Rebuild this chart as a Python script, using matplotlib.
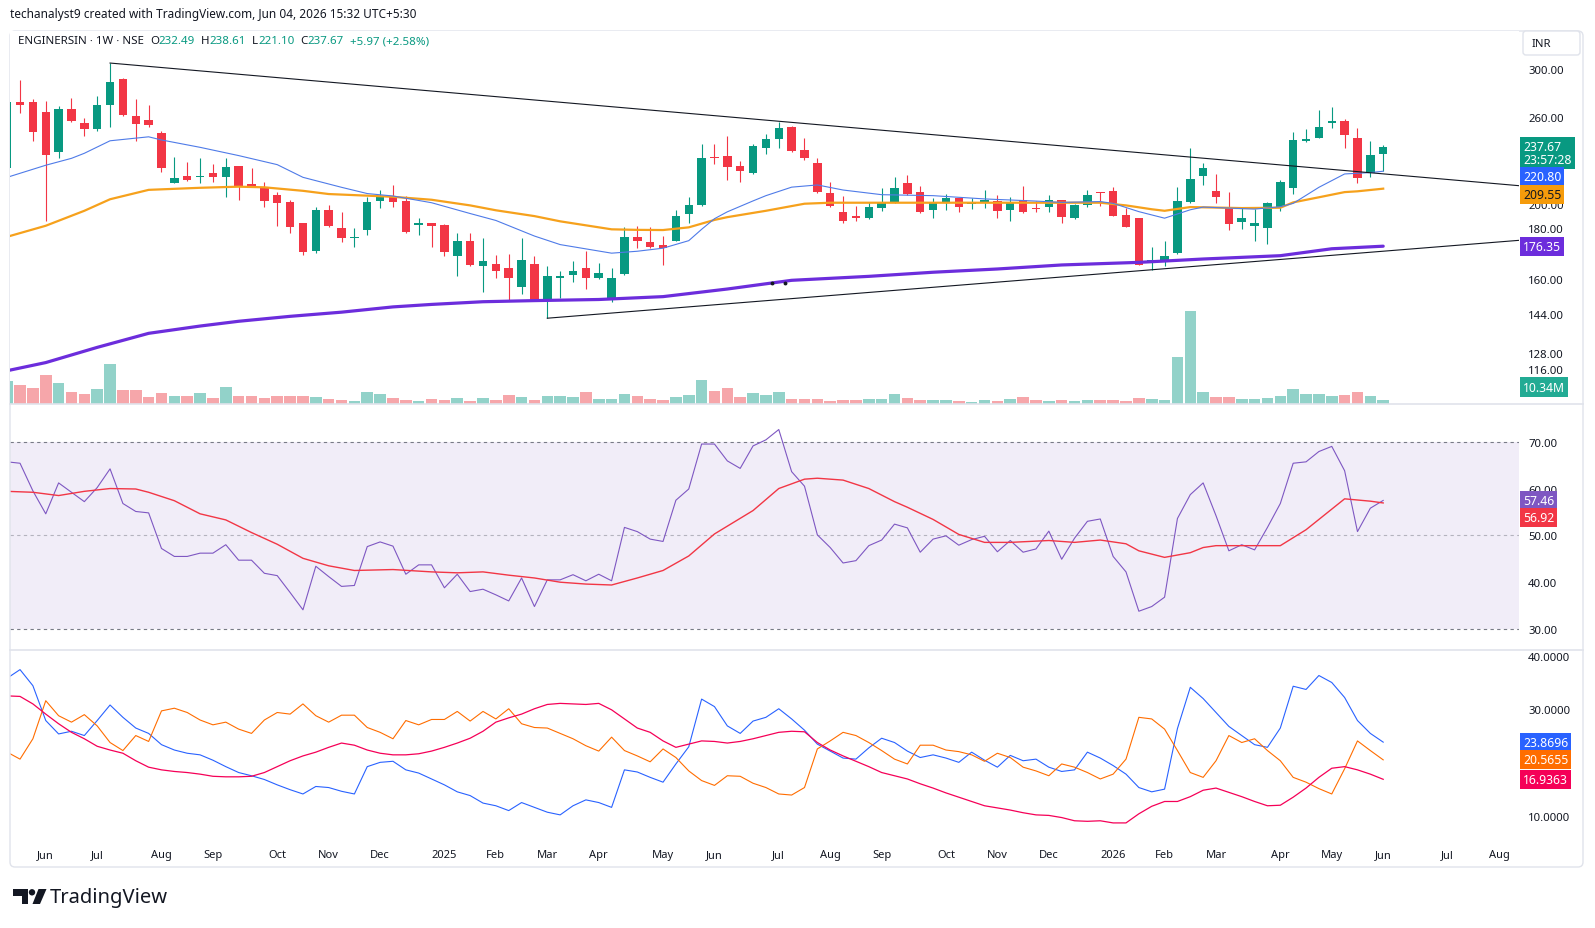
import numpy as np
import matplotlib.pyplot as plt
from matplotlib.lines import Line2D
from matplotlib.patches import FancyBboxPatch, Polygon, Circle
from matplotlib.transforms import IdentityTransform
from matplotlib.ticker import NullLocator

W, H = 1595, 929
plt.rcParams['font.family'] = ['Noto Sans', 'DejaVu Sans']

# weekly bars, index 0 = week of 3 Jun 2024, 104 = week of 1 Jun 2026
bars = np.arange(-3, 105)

opens = [222.7, 271.5, 272.0, 263.9, 234.1, 266.3, 255.2, 250.9, 269.5, 291.2,
         260.8, 257.5, 247.6, 213.0, 217.9, 216.8, 219.5, 217.2, 224.2, 212.5,
         210.8, 205.6, 201.1, 189.0, 173.8, 196.6, 186.3, 180.8, 185.3, 202.2,
         205.2, 202.2, 188.1, 189.0, 188.1, 171.1, 179.0, 166.3, 167.2, 165.2,
         156.2, 167.2, 149.9, 160.3, 161.7, 165.2, 160.3, 149.9, 162.2, 181.1,
         178.4, 177.2, 179.3, 194.2, 199.8, 230.7, 231.0, 224.2, 219.7, 236.7,
         243.5, 251.9, 235.5, 226.3, 206.7, 195.2, 193.2, 191.7, 197.7, 201.1,
         213.0, 207.3, 196.7, 201.6, 203.7, 200.2, 200.9, 201.9, 196.7, 202.5,
         197.7, 198.5, 202.5, 191.8, 199.5, 207.3, 207.9, 193.6, 191.9, 168.3,
         168.1, 172.7, 201.1, 217.4, 207.9, 198.1, 189.8, 187.5, 186.1, 198.5,
         209.8, 241.5, 244.2, 254.9, 256.9, 243.7, 219.5, 232.49]
highs = [274.0, 290.5, 274.3, 272.7, 268.7, 274.7, 258.8, 276.9, 305.4, 292.0,
         274.3, 269.5, 249.3, 230.7, 227.2, 229.4, 225.6, 229.4, 224.5, 222.8,
         213.6, 207.4, 202.5, 189.3, 198.1, 199.8, 195.2, 186.3, 204.2, 208.8,
         212.0, 205.2, 191.9, 189.3, 188.5, 183.4, 183.4, 180.8, 171.7, 172.1,
         180.8, 171.0, 166.3, 163.6, 168.8, 173.7, 167.7, 165.2, 186.6, 187.5,
         186.6, 182.0, 196.6, 204.6, 239.6, 239.6, 245.6, 227.6, 239.6, 246.7,
         256.2, 252.5, 243.7, 229.4, 213.6, 205.2, 199.1, 201.1, 210.0, 216.8,
         218.3, 211.4, 203.7, 206.2, 204.0, 203.7, 208.8, 205.6, 204.1, 211.0,
         202.2, 205.6, 202.8, 200.0, 208.8, 207.5, 210.4, 197.7, 192.0, 176.0,
         179.3, 210.3, 236.7, 226.3, 219.0, 207.3, 197.7, 197.4, 201.6, 215.3,
         248.6, 250.9, 265.3, 268.0, 258.5, 251.1, 241.9, 238.61]
lows = [220.0, 262.6, 241.9, 190.4, 229.4, 256.1, 245.6, 249.3, 252.3, 260.5,
        241.9, 252.3, 220.5, 213.0, 214.6, 213.0, 213.6, 204.6, 202.5, 210.4,
        198.5, 187.5, 183.4, 171.8, 172.8, 187.0, 178.4, 176.1, 182.6, 197.7,
        198.5, 183.4, 182.6, 176.1, 171.4, 161.4, 166.0, 153.6, 160.3, 149.5,
        152.8, 149.9, 142.1, 151.2, 158.5, 155.1, 160.0, 149.2, 161.9, 175.2,
        175.2, 166.8, 179.0, 189.3, 199.2, 225.6, 215.3, 213.6, 219.0, 232.4,
        236.4, 233.8, 228.1, 206.7, 198.5, 189.3, 190.4, 191.5, 196.1, 200.8,
        205.8, 194.6, 191.9, 196.6, 195.2, 197.4, 197.7, 191.8, 190.0, 194.8,
        195.2, 195.6, 188.9, 191.5, 198.5, 199.1, 193.0, 186.7, 166.5, 164.0,
        166.3, 172.5, 200.7, 211.9, 200.9, 185.3, 185.7, 179.3, 177.5, 196.1,
        206.2, 241.0, 244.0, 251.4, 236.4, 213.2, 216.8, 221.10]
closes = [271.5, 269.3, 248.6, 232.0, 266.3, 256.9, 250.9, 269.3, 288.3, 261.6,
          254.4, 253.9, 222.8, 216.2, 215.3, 217.9, 217.2, 223.5, 210.8, 211.4,
          202.2, 200.7, 186.9, 173.4, 196.6, 187.5, 180.8, 181.4, 201.6, 205.2,
          201.6, 183.9, 188.9, 187.5, 173.1, 179.0, 166.8, 168.8, 163.8, 160.5,
          169.2, 150.2, 161.1, 161.1, 163.8, 160.3, 162.6, 160.5, 181.1, 179.3,
          176.1, 175.5, 193.2, 199.5, 229.5, 229.7, 223.8, 221.2, 237.9, 243.5,
          251.4, 234.4, 229.4, 207.3, 199.1, 190.0, 191.7, 198.5, 201.1, 209.8,
          206.2, 195.6, 201.1, 203.7, 198.5, 200.9, 202.5, 196.1, 200.5, 195.2,
          197.1, 202.7, 192.7, 199.8, 205.6, 206.7, 193.2, 186.9, 166.8, 168.8,
          171.1, 201.9, 215.6, 222.7, 204.6, 188.5, 191.7, 189.3, 200.9, 213.6,
          242.5, 243.5, 251.9, 256.9, 246.3, 216.2, 231.70, 237.67]
volume_m = [60.2, 49.1, 41.4, 75.0, 54.3, 31.0, 25.1, 38.8, 103.4, 36.2,
            36.2, 18.1, 27.7, 20.7, 20.7, 28.4, 15.5, 43.9, 20.7, 20.7,
            14.7, 20.7, 20.7, 20.7, 18.1, 12.9, 10.3, 7.8, 31.0, 25.1,
            15.5, 10.3, 7.8, 12.9, 10.3, 15.5, 7.8, 15.5, 10.3, 23.3,
            18.1, 10.3, 20.7, 20.7, 18.1, 31.0, 12.9, 12.9, 25.1, 20.7,
            12.9, 10.3, 18.1, 23.3, 62.0, 33.6, 41.4, 18.1, 27.7, 23.3,
            31.0, 12.9, 12.9, 12.9, 7.8, 10.3, 10.3, 12.9, 12.9, 25.9,
            15.5, 10.3, 10.3, 10.3, 7.8, 5.2, 10.3, 7.8, 12.9, 18.1,
            10.3, 7.8, 10.3, 7.8, 10.3, 10.3, 10.3, 7.8, 15.5, 12.9,
            10.3, 123.3, 243.0, 31.0, 18.1, 18.1, 12.9, 12.9, 15.5, 20.7,
            38.8, 25.9, 25.9, 20.7, 23.3, 31.0, 20.7, 10.34]

# moving averages (read at selected bars)
ma20_x = [-3, 0, 2, 3, 5, 8, 9, 12, 15, 18, 20, 23, 25, 27, 30, 33, 35, 38, 40, 44,
          46, 48, 50, 51, 52, 53, 55, 56, 58, 60, 62, 65, 69, 73, 77, 79, 82, 83, 85, 87,
          89, 90, 92, 94, 96, 97, 99, 101, 103, 104]
ma20 = [216.8, 224.8, 229.5, 233.0, 241.9, 244.8, 242.5, 237.2, 231.4, 225.2,
        216.8, 210.4, 206.5, 205.0, 200.9, 194.5, 190.5, 181.8, 177.2, 172.7,
        173.7, 175.3, 179.3, 185.5, 191.5, 195.5, 202.0, 205.2, 210.5, 211.9,
        208.7, 205.8, 205.2, 203.2, 201.9, 201.1, 201.6, 200.5, 195.6, 191.8,
        196.7, 198.3, 197.7, 197.1, 198.5, 200.5, 210.4, 219.0, 219.9, 220.80]
ma50_x = [-3, 0, 3, 5, 8, 12, 15, 17, 20, 22, 25, 27, 30, 33, 35, 38, 40, 44, 46, 48,
          50, 52, 53, 56, 59, 61, 66, 74, 82, 84, 86, 87, 89, 93, 96, 97, 99, 101, 102, 104]
ma50 = [181.4, 187.5, 196.1, 203.0, 208.8, 210.1, 210.8, 210.4, 208.2, 206.2,
        205.2, 204.5, 202.7, 199.3, 196.4, 193.0, 190.0, 185.5, 185.2, 185.1,
        186.6, 190.8, 192.4, 196.1, 200.3, 200.9, 200.9, 200.9, 200.9, 199.3,
        197.0, 196.1, 198.3, 197.7, 197.9, 201.1, 204.2, 207.4, 207.9, 209.55]
ma200_x = [-3, 0, 4, 8, 12, 15, 19, 23, 27, 30, 34, 38, 43, 48, 53, 58, 64, 69, 74, 79,
           85, 90, 96, 100, 104]
ma200 = [121.4, 124.4, 130.2, 135.8, 138.8, 140.8, 142.9, 144.7, 147.0, 148.1,
         149.3, 149.8, 150.3, 151.6, 155.1, 159.2, 161.1, 163.1, 164.7, 166.7,
         168.0, 169.7, 171.4, 175.0, 176.35]

# drawn trendlines (bar, price)
trend_hi_x, trend_hi_y = [5, 114.6], [305.4, 211.4]
trend_lo_x, trend_lo_y = [39, 114.6], [142.1, 179.5]
anchor_x, anchor_y = [56.45, 57.48], [157.8, 157.8]

rsi = [65.7, 65.4, 59.5, 54.6, 61.2, 59.2, 57.2, 60.2, 64.2, 56.8,
       55.1, 54.8, 47.2, 45.5, 45.5, 46.2, 46.2, 48.0, 44.7, 44.7,
       41.9, 41.4, 37.8, 34.1, 43.4, 41.2, 39.1, 39.3, 47.6, 48.6,
       47.7, 41.7, 43.7, 43.7, 38.8, 41.7, 38.0, 38.5, 37.3, 36.0,
       40.9, 34.8, 40.5, 40.5, 41.6, 40.3, 41.7, 40.3, 51.7, 50.8,
       49.2, 48.7, 57.5, 59.9, 69.5, 69.5, 65.9, 64.3, 69.1, 70.4,
       72.6, 63.6, 60.5, 50.1, 47.4, 44.1, 44.6, 47.8, 49.0, 52.4,
       51.6, 46.4, 49.2, 49.9, 47.9, 49.1, 49.8, 46.5, 48.9, 46.4,
       47.1, 50.9, 44.9, 49.4, 53.0, 53.5, 45.5, 42.2, 33.8, 34.8,
       36.8, 53.6, 58.7, 61.2, 54.2, 46.7, 48.0, 46.9, 51.7, 56.8,
       65.4, 65.7, 67.9, 69.0, 63.8, 50.8, 55.8, 57.46]
rsi_ma_x = [-3, -1, 1, 3, 5, 7, 8, 10, 12, 14, 16, 18, 20, 22, 24, 27, 30, 32, 34, 36,
            38, 40, 42, 44, 46, 48, 50, 52, 55, 57, 59, 60, 62, 64, 66, 67, 69, 71, 73, 75,
            78, 80, 82, 84, 85, 87, 89, 90, 91, 96, 98, 100, 101, 103, 104]
rsi_ma = [59.4, 59.2, 58.5, 59.4, 60.0, 59.9, 59.2, 57.4, 54.6, 53.3,
          50.6, 48.1, 45.1, 43.5, 42.5, 42.7, 42.2, 42.0, 42.2, 41.5,
          40.9, 40.0, 39.6, 39.4, 40.9, 42.5, 45.6, 50.3, 55.3, 60.0,
          62.0, 62.2, 61.8, 60.0, 57.2, 56.0, 53.4, 50.2, 48.5, 48.5,
          48.9, 48.5, 49.0, 48.2, 46.7, 45.3, 46.3, 47.4, 47.8, 47.8,
          51.2, 55.6, 57.8, 57.3, 56.92]

di_plus = [35.8, 37.4, 34.4, 27.9, 25.4, 25.9, 25.1, 27.9, 30.8, 28.5,
           26.5, 25.5, 23.4, 22.4, 21.8, 21.5, 20.5, 19.3, 18.2, 17.6,
           16.9, 15.9, 15.0, 14.2, 15.6, 15.4, 14.7, 14.2, 19.3, 20.1,
           20.3, 18.7, 18.1, 17.0, 15.9, 14.6, 13.9, 12.5, 12.0, 11.1,
           12.6, 11.7, 10.8, 10.3, 12.0, 13.1, 12.6, 11.7, 18.7, 18.3,
           17.3, 16.4, 19.8, 23.0, 31.9, 30.5, 26.9, 25.5, 27.8, 28.5,
           30.1, 28.2, 26.1, 23.5, 22.2, 20.9, 20.7, 22.8, 24.6, 23.8,
           22.2, 21.0, 21.5, 20.9, 20.1, 22.0, 20.5, 19.2, 21.4, 20.4,
           20.7, 19.2, 18.4, 18.7, 22.0, 20.9, 19.5, 17.9, 15.4, 14.6,
           15.1, 26.4, 34.1, 32.0, 29.4, 26.8, 25.1, 23.4, 22.9, 26.5,
           34.3, 33.7, 36.3, 35.0, 32.2, 27.9, 25.5, 23.8696]
di_minus = [22.0, 20.7, 24.5, 31.6, 28.8, 27.6, 29.0, 26.9, 23.8, 22.3,
            25.1, 24.0, 29.7, 30.2, 29.4, 28.0, 27.1, 27.6, 26.3, 25.5,
            28.0, 29.4, 29.1, 31.0, 28.8, 27.6, 28.9, 28.9, 26.6, 25.7,
            24.5, 27.9, 27.1, 28.1, 28.1, 29.6, 27.8, 29.6, 28.2, 30.1,
            27.3, 26.6, 26.5, 25.5, 24.5, 23.2, 22.2, 24.8, 22.3, 21.3,
            20.2, 22.6, 21.0, 18.5, 16.7, 15.8, 17.6, 17.5, 16.2, 15.4,
            14.2, 14.0, 15.4, 22.6, 24.1, 25.7, 25.1, 23.8, 22.3, 20.7,
            19.8, 23.3, 23.3, 22.4, 22.1, 21.5, 20.3, 21.8, 21.0, 19.2,
            18.5, 17.6, 19.8, 19.2, 18.2, 17.0, 17.9, 20.7, 28.5, 28.2,
            26.3, 22.3, 18.2, 17.3, 20.4, 25.1, 23.8, 24.5, 22.3, 20.4,
            17.3, 16.4, 15.2, 14.2, 18.9, 24.1, 22.3, 20.5655]
adx = [32.5, 32.4, 31.0, 29.1, 27.3, 25.7, 24.5, 23.1, 22.4, 21.8,
       20.4, 19.2, 18.7, 18.4, 18.2, 17.9, 17.5, 17.4, 17.4, 17.5,
       18.2, 19.3, 20.4, 21.3, 22.0, 22.9, 23.7, 23.3, 22.4, 21.8,
       21.5, 21.5, 21.7, 22.2, 22.9, 23.7, 24.6, 25.9, 27.6, 28.4,
       29.1, 30.1, 30.9, 31.1, 31.0, 30.9, 31.1, 29.9, 28.2, 26.5,
       25.7, 24.1, 22.9, 23.5, 24.1, 24.0, 23.7, 24.0, 24.5, 25.1,
       25.7, 25.9, 25.8, 23.8, 22.4, 21.3, 20.3, 19.3, 18.2, 17.6,
       17.0, 16.1, 15.3, 14.4, 13.6, 12.8, 12.0, 11.6, 11.2, 10.7,
       10.3, 10.2, 9.8, 9.2, 9.1, 9.2, 8.8, 8.8, 10.5, 11.9,
       12.8, 12.8, 13.7, 14.9, 15.3, 14.5, 13.7, 12.8, 12.0, 12.1,
       13.6, 15.3, 17.3, 19.0, 19.3, 18.7, 17.9, 16.9363]

month_pos = [0, 4, 9, 13, 18, 22, 26, 31, 35, 39, 43, 48, 52, 57, 61, 65, 70, 74,
             78, 83, 87, 91, 96, 100, 104, 109, 113]
month_lab = ['Jun', 'Jul', 'Aug', 'Sep', 'Oct', 'Nov', 'Dec', '2025', 'Feb', 'Mar',
             'Apr', 'May', 'Jun', 'Jul', 'Aug', 'Sep', 'Oct', 'Nov', 'Dec', '2026',
             'Feb', 'Mar', 'Apr', 'May', 'Jun', 'Jul', 'Aug']
price_ticks = [128, 144, 160, 200, 260, 300]
# ticks drawn separately and nudged up, clear of the value tags (price, pixels)
price_ticks_nudged = [(116, 15), (180, 10)]
rsi_ticks = [30, 40, 50, 60, 70]
dmi_ticks = [10, 30, 40]

for arr in (opens, highs, lows, closes, volume_m, rsi, di_plus, di_minus, adx):
    assert len(arr) == len(bars), len(arr)

GREEN, RED, TXT, LINE = '#089981', '#f23645', '#131722', '#e0e3eb'
o, h, l, c = map(np.array, (opens, highs, lows, closes))
up = c >= o
col = np.where(up, GREEN, RED)
vcol = np.where(up, '#92d2c9', '#f6a6aa')

fig = plt.figure(figsize=(W / 100, H / 100), dpi=100)
fig.patch.set_facecolor('white')


def rect(x0, y0, x1, y1):
    return [x0 / W, 1 - y1 / H, (x1 - x0) / W, (y1 - y0) / H]


PL, PR, TOP, S1, S2, BOT = 10, 1519, 32, 405, 651, 840
ax_vol = fig.add_axes(rect(PL, TOP, PR, S1))
ax = fig.add_axes(rect(PL, TOP, PR, S1), sharex=ax_vol)
ax_rsi = fig.add_axes(rect(PL, S1, PR, S2), sharex=ax_vol)
ax_dmi = fig.add_axes(rect(PL, S2, PR, BOT), sharex=ax_vol)
ax_vol.set_zorder(1)
ax.set_zorder(2)
ax.patch.set_visible(False)
for a in (ax_vol, ax, ax_rsi, ax_dmi):
    for s in a.spines.values():
        s.set_visible(False)
    a.tick_params(length=0, labelsize=8.2, labelcolor=TXT)
    a.tick_params(axis='x', labelbottom=False)
ax_vol.set_yticks([])
ax_vol.set_xlim(-2.78, 114.56)

# volume
ax_vol.bar(bars, volume_m, width=0.9, color=vcol, linewidth=0)
ax_vol.set_ylim(0, max(volume_m) * 4.0)

# price pane
ax.set_yscale('log')
ax.set_ylim(109.87, 336.2)
ax.vlines(bars, l, h, colors=col, lw=0.8, zorder=2)
lo_b = np.minimum(o, c)
hi_b = np.maximum(np.maximum(o, c), lo_b * 1.004)
ax.bar(bars, hi_b - lo_b, bottom=lo_b, width=0.66, color=col, linewidth=0, zorder=3)
ax.plot(ma200_x, ma200, color='#6c2ddc', lw=2.3, zorder=4, solid_capstyle='round')
ax.plot(ma50_x, ma50, color='#f6a11c', lw=1.6, zorder=4)
ax.plot(ma20_x, ma20, color='#4f7be8', lw=0.8, zorder=4)
ax.plot(trend_hi_x, trend_hi_y, color=TXT, lw=0.8, zorder=5)
ax.plot(trend_lo_x, trend_lo_y, color=TXT, lw=0.8, zorder=5)
ax.plot(anchor_x, anchor_y, 'o', ms=1.8, color=TXT, zorder=5)
ax.yaxis.tick_right()
ax.yaxis.set_minor_locator(NullLocator())
ax.set_yticks(price_ticks)
ax.set_yticklabels([f'{v:.2f}' for v in price_ticks])
ax.tick_params(axis='y', pad=6.5)
for pv, nudge in price_ticks_nudged:
    ax.annotate(f'{pv:.2f}', xy=(1, pv), xycoords=('axes fraction', 'data'),
                xytext=(9, nudge), textcoords='offset pixels', ha='left', va='center',
                fontsize=8.2, color=TXT, annotation_clip=False, zorder=1)

# RSI pane
ax_rsi.set_ylim(25.52, 78.05)
ax_rsi.axhspan(30, 70, color='#7e57c2', alpha=0.1, lw=0)
for lev, al in ((70, 1), (50, 0.5), (30, 1)):
    ax_rsi.axhline(lev, color='#787b86', lw=0.8, ls=(0, (3, 3)), alpha=al)
ax_rsi.plot(bars, rsi, color='#7e57c2', lw=0.8)
ax_rsi.plot(rsi_ma_x, rsi_ma, color='#f23645', lw=1.0)
ax_rsi.yaxis.tick_right()
ax_rsi.set_yticks(rsi_ticks)
ax_rsi.set_yticklabels([f'{v:.2f}' for v in rsi_ticks])
ax_rsi.tick_params(axis='y', pad=6.5)

# DMI pane
ax_dmi.set_ylim(5.80, 41.06)
ax_dmi.plot(bars, di_plus, color='#2962ff', lw=0.8)
ax_dmi.plot(bars, di_minus, color='#ff6d00', lw=0.8)
ax_dmi.plot(bars, adx, color='#f50057', lw=0.9)
ax_dmi.yaxis.tick_right()
ax_dmi.set_yticks(dmi_ticks)
ax_dmi.set_yticklabels([f'{v:.4f}' for v in dmi_ticks])
ax_dmi.tick_params(axis='y', pad=6.5)
ax_dmi.set_xticks(month_pos)
ax_dmi.set_xticklabels(month_lab)
ax_dmi.tick_params(axis='x', labelbottom=True, pad=7, labelsize=8)
for t in ax_dmi.get_xticklabels():
    if t.get_text().isdigit():
        t.set_fontweight('bold')


def tag(a, y, text, bg, fg='white', dy=0, ycoord='data'):
    a.annotate(text, xy=(1, y), xycoords=('axes fraction', ycoord),
               xytext=(4, dy), textcoords='offset pixels', ha='left', va='center',
               fontsize=8.8, color=fg, annotation_clip=False, zorder=10, linespacing=1.0,
               bbox=dict(boxstyle='square,pad=0.25', fc=bg, ec='none'))


tag(ax, c[-1], f'{c[-1]:.2f}\n23:57:28', GREEN, dy=-6.5)
tag(ax, ma20[-1], f'{ma20[-1]:.2f}', '#2962ff', dy=-5)
tag(ax, ma50[-1], f'{ma50[-1]:.2f}', '#f59b0b', fg=TXT, dy=-5.5)
tag(ax, ma200[-1], f'{ma200[-1]:.2f}', '#6c2ddc')
tag(ax, volume_m[-1], f'{volume_m[-1]:.2f}M', '#22ab94', dy=13, ycoord=ax_vol.transData)
tag(ax_rsi, rsi[-1], f'{rsi[-1]:.2f}', '#7e57c2')
tag(ax_rsi, rsi_ma[-1], f'{rsi_ma[-1]:.2f}', '#f23645', dy=-14.5)
tag(ax_dmi, di_plus[-1], f'{di_plus[-1]:.4f}', '#2962ff')
tag(ax_dmi, di_minus[-1], f'{di_minus[-1]:.4f}', '#ff6d00')
tag(ax_dmi, adx[-1], f'{adx[-1]:.4f}', '#f50057')

# frame and pane separators
idt = IdentityTransform()
fig.add_artist(FancyBboxPatch((10, H - 868), 1573, 868 - TOP, boxstyle='round,pad=0,rounding_size=5',
                              transform=idt, fc='none', ec=LINE, lw=1))
for yy in (S1, S2):
    fig.add_artist(Line2D([10 / W, 1583 / W], [1 - yy / H] * 2, color=LINE, lw=1.2))
fig.add_artist(FancyBboxPatch((1523, H - 56), 57, 24, boxstyle='round,pad=0,rounding_size=3',
                              transform=idt, fc='white', ec=LINE, lw=1))
fig.text(1532 / W, 1 - 44.5 / H, 'INR', fontsize=8.2, color=TXT, va='center')

# header texts
fig.text(10 / W, 1 - 14.5 / H, 'techanalyst9 created with TradingView.com, Jun 04, 2026 15:32 UTC+5:30',
         fontsize=8.5, color=TXT, va='center')
renderer = fig.canvas.get_renderer()
chg = c[-1] - c[-2]
pieces = [('ENGINERSIN · 1W · NSE', TXT, 6), ('O', TXT, 0), (f'{o[-1]:.2f}', GREEN, 6),
          ('H', TXT, 0), (f'{h[-1]:.2f}', GREEN, 6), ('L', TXT, 0), (f'{l[-1]:.2f}', GREEN, 6),
          ('C', TXT, 0), (f'{c[-1]:.2f}', GREEN, 6),
          (f'{chg:+.2f} ({chg / c[-2] * 100:+.2f}%)', GREEN, 0)]
x = 18
for s, colr, gap in pieces:
    t = fig.text(x / W, 1 - 42 / H, s, fontsize=8.3, color=colr, va='center', ha='left', zorder=5)
    x += t.get_window_extent(renderer).width + gap

# TradingView logo
fig.add_artist(Polygon([(13, H - 890), (28, H - 890), (28, H - 905), (21.5, H - 905),
                        (21.5, H - 896.5), (13, H - 896.5)], closed=True, transform=idt, fc=TXT, ec='none'))
fig.add_artist(Circle((32, H - 893.3), 3.2, transform=idt, fc=TXT, ec='none'))
fig.add_artist(Polygon([(38.5, H - 890), (46.5, H - 890), (40, H - 905), (32.5, H - 905)],
                       closed=True, transform=idt, fc=TXT, ec='none'))
fig.text(50 / W, 1 - 898 / H, 'TradingView', fontsize=14.5, fontweight='bold', color=TXT, va='center')

fig.savefig('out.png', dpi=100, facecolor='white')
